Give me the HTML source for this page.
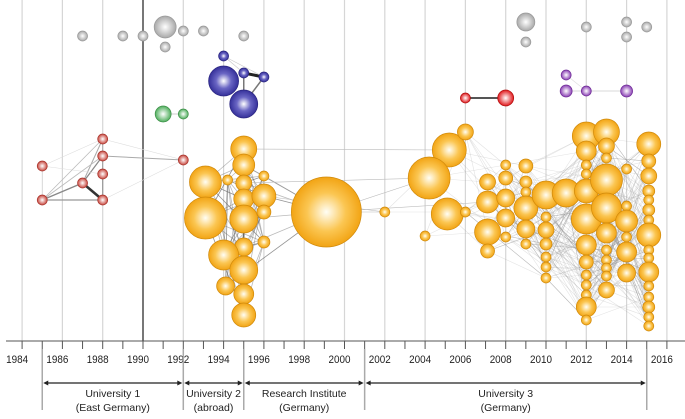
<!DOCTYPE html>
<html><head><meta charset="utf-8">
<style>
html,body{margin:0;padding:0;background:#fff;}
svg{display:block;font-family:"Liberation Sans",sans-serif;}
</style></head>
<body>
<svg id="chart" width="685" height="419" viewBox="0 0 685 419">
<defs>
<radialGradient id="g-orange" cx="0.5" cy="0.5" r="0.5"><stop offset="0" stop-color="#fffef5"/><stop offset="0.55" stop-color="#fbc652"/><stop offset="1" stop-color="#f2a414"/></radialGradient>
<radialGradient id="g-gray" cx="0.5" cy="0.5" r="0.5"><stop offset="0" stop-color="#ffffff"/><stop offset="1" stop-color="#a8a8a8"/></radialGradient>
<radialGradient id="g-blue" cx="0.5" cy="0.5" r="0.5"><stop offset="0" stop-color="#ffffff"/><stop offset="0.5" stop-color="#6a66c4"/><stop offset="1" stop-color="#35309a"/></radialGradient>
<radialGradient id="g-green" cx="0.5" cy="0.5" r="0.5"><stop offset="0" stop-color="#ffffff"/><stop offset="1" stop-color="#4fae5c"/></radialGradient>
<radialGradient id="g-red" cx="0.5" cy="0.5" r="0.5"><stop offset="0" stop-color="#ffffff"/><stop offset="1" stop-color="#c8473e"/></radialGradient>
<radialGradient id="g-bred" cx="0.5" cy="0.5" r="0.5"><stop offset="0" stop-color="#ffffff"/><stop offset="1" stop-color="#e0161a"/></radialGradient>
<radialGradient id="g-purple" cx="0.5" cy="0.5" r="0.5"><stop offset="0" stop-color="#ffffff"/><stop offset="1" stop-color="#8a3fb4"/></radialGradient>
</defs>
<g id="grid"></g>
<g id="edges"></g>
<g id="nodes"></g>
<g id="axis"></g>
<g id="periods"></g>
</svg>
<script>
const years = [1984,1986,1988,1990,1992,1994,1996,1998,2000,2002,2004,2006,2008,2010,2012,2014,2016];
// nodes: [year, vertical position (px), radius]
const grayNodes = [[1987,36,5],[1989,36,5],[1990,36,5],[1991.1,27,11],[1991.1,47,5],[1992,31,5],[1993,31,5],[1995,36,5],[2009,22,9],[2009,42,5],[2012,27,5],[2014,22,5],[2014,37,5],[2015,27,5]];
const blueNodes = [[1994,56,5],[1994,81,15],[1995,73,5],[1996,77,5],[1995,104,14]];
const blueEdges = [[2,3,3,"#222"],[2,4,1.5,"#777"],[3,4,1.5,"#777"],[0,3,0.7,"#ccc"],[0,2,0.7,"#ccc"]];
const greenNodes = [[1991,114,8],[1992,114,5]];
const redNodes = [[1985,166,5],[1985,200,5],[1987,183,5],[1988,139,5],[1988,156,5],[1988,174,5],[1988,200,5],[1992,160,5]];
const redEdges = [[2,6,2.5,"#333"],[1,2,1.3,"#888"],[1,6,1.3,"#999"],[2,4,1.2,"#888"],[2,3,1,"#aaa"],[4,6,1,"#999"],[3,4,1,"#aaa"],[4,7,1,"#aaa"],[0,1,0.8,"#ccc"],[0,5,0.6,"#ddd"],[0,3,0.6,"#ddd"],[1,3,0.8,"#bbb"],[1,4,0.8,"#bbb"],[5,6,1,"#999"],[6,7,0.6,"#ddd"],[3,7,0.6,"#ddd"]];
const brightRedNodes = [[2006,98,5],[2008,98,8]];
const purpleNodes = [[2011,75,5],[2011,91,6],[2012,91,5],[2014,91,6]];
const orangeNodes = [
[1995,149,13],[1995,165,11],[1994.2,180,5],[1993.1,182,16],[1995,183,8],[1996,176,5],[1995,199,10],[1996,196,12],[1996,212,7],[1993.1,218,21],[1995,219,14],[1999.1,212,35],[1995,247,9],[1994,255,15],[1995,270,14],[1996,242,6],[1994.1,286,9],[1995,294,10],[1995,315,12],
[2002,212,5],[2004,236,5],[2005.2,150,17],[2004.2,178,21],[2005.1,214,16],[2006,132,8],[2006,212,5],
[2007.1,182,8],[2007.1,202,11],[2007.1,232,13],[2007.1,251,7],
[2008,165,5],[2008,178,7],[2008,198,9],[2008,218,9],[2008,237,5],
[2009,166,7],[2009,182,6],[2009,192,5],[2009,208,12],[2009,229,9],[2009,244,5],
[2010,195,14],[2010,217,5],[2010,230,8],[2010,244,6],[2010,257,5],[2010,267,5],[2010,278,5],
[2011,193,14],
[2012,136,14],[2012,151,10],[2012,165,5],[2012,174,5],[2012,191,12],[2012,219,15],[2012,245,10],[2012,262,7],[2012,275,5],[2012,285,5],[2012,295,5],[2012,307,10],[2012,320,5],
[2013,132,13],[2013,146,8],[2013,158,5],[2013,180,16],[2013,208,15],[2013,233,10],[2013,250,5],[2013,260,5],[2013,268,5],[2013,276,5],[2013,290,8],
[2014,169,5],[2014,206,5],[2014,221,11],[2014,237,5],[2014,252,10],[2014,273,9],
[2015.1,144,12],[2015.1,161,7],[2015.1,176,8],[2015.1,191,6],[2015.1,200,5],[2015.1,210,6],[2015.1,220,5],[2015.1,235,12],[2015.1,250,5],[2015.1,258,5],[2015.1,272,10],[2015.1,286,5],[2015.1,297,5],[2015.1,307,6],[2015.1,317,5],[2015.1,326,5]
];
const periodBounds = [1985,1992,1995,2001,2015];
const periodLine1 = ["University 1","University 2","Research Institute","University 3"];
const periodLine2 = ["(East Germany)","(abroad)","(Germany)","(Germany)"];

const NS="http://www.w3.org/2000/svg";
const X0=143, PX=20.15, Y0=1990;
function xs(yr){return X0+(yr-Y0)*PX;}
function mk(tag,attrs,parent){const e=document.createElementNS(NS,tag);for(const k in attrs)e.setAttribute(k,attrs[k]);parent.appendChild(e);return e;}
const grid=document.getElementById('grid'),edges=document.getElementById('edges'),nodes=document.getElementById('nodes'),axis=document.getElementById('axis'),periods=document.getElementById('periods');

years.forEach(y=>{
  const l=mk('line',{x1:xs(y),x2:xs(y),y1:0,y2:341,stroke:y===1990?'#777':'#d6d6d6','stroke-width':y===1990?2:1.2},grid);
  
  
});

function drawEdges(list,arr,name){
  list.forEach(([a,b,w,c],i)=>{
    const l=mk('line',{x1:xs(arr[a][0]),y1:arr[a][1],x2:xs(arr[b][0]),y2:arr[b][1],stroke:c,'stroke-width':w},edges);
    
    
  });
}
for(let i=0;i<orangeNodes.length;i++){
  for(let j=i+1;j<orangeNodes.length;j++){
    const a=orangeNodes[i],b=orangeNodes[j];
    const d=Math.abs(a[0]-b[0]);
    const early=i<19&&j<19;
    if((d>0.5 && d<=4 && (i*7+j*3)%4===0) || (early && (i+j)%3===0)){
      const l=mk('line',{x1:xs(a[0]),y1:a[1],x2:xs(b[0]),y2:b[1],stroke:early?'#666':'#9a9a9a','stroke-opacity':(i+j)%9===0?0.7:(early?0.45:0.28),'stroke-width':early?0.8:0.6},edges);
      
      
    }
  }
}
[[11,22],[11,19],[7,19],[0,21],[11,27],[4,22]].forEach(([a,b])=>{
  const l=mk('line',{x1:xs(orangeNodes[a][0]),y1:orangeNodes[a][1],x2:xs(orangeNodes[b][0]),y2:orangeNodes[b][1],stroke:'#bbb','stroke-width':0.6},edges);
  
  
});
drawEdges(redEdges,redNodes,'red');
drawEdges(blueEdges,blueNodes,'blue');
drawEdges([[0,1,1,"#ccc"]],greenNodes,'green');
drawEdges([[0,1,2,"#555"]],brightRedNodes,'bright-red');
drawEdges([[1,2,0.7,"#ccc"],[2,3,0.7,"#ccc"],[0,2,0.6,"#ddd"]],purpleNodes,'purple');

function drawNodes(arr,grad,stroke,name){
  arr.forEach(([yr,y,r])=>{
    const c=mk('circle',{cx:xs(yr),cy:y,r:r,fill:'url(#'+grad+')',stroke:stroke,'stroke-width':0.7},nodes);
    
    
  });
}
drawNodes(grayNodes,'g-gray','#999','gray');
drawNodes(blueNodes,'g-blue','#2b2680','blue');
drawNodes(greenNodes,'g-green','#3d8f48','green');
drawNodes(redNodes,'g-red','#a8352d','red');
drawNodes(brightRedNodes,'g-bred','#b01010','bright-red');
drawNodes(purpleNodes,'g-purple','#6e2c96','purple');
drawNodes(orangeNodes,'g-orange','#d08a0c','orange');

const ax=mk('line',{x1:6,x2:685,y1:341,y2:341,stroke:'#555','stroke-width':1},axis);


for(let y=1984;y<=2016;y++){
  const t=mk('line',{x1:xs(y),x2:xs(y),y1:341,y2:349,stroke:'#555','stroke-width':1},axis);
  
  
}
years.forEach(y=>{
  const t=mk('text',{x:xs(y)-5,y:363,'text-anchor':'middle','font-size':11,fill:'#222',textLength:22,lengthAdjust:'spacingAndGlyphs'},axis);
  t.textContent=y;
  
  
});

periodBounds.forEach(y=>{
  const l=mk('line',{x1:xs(y),x2:xs(y),y1:349,y2:410,stroke:'#aaa','stroke-width':1.5},periods);
  
  
});
for(let i=0;i<periodLine1.length;i++){
  const a=xs(periodBounds[i])+1,b=xs(periodBounds[i+1])-1,m=(a+b)/2;
  const l=mk('line',{x1:a+4,x2:b-4,y1:383,y2:383,stroke:'#222','stroke-width':1.2},periods);
  
  
  const h1=mk('path',{d:`M${a} 383 l5 -2.5 v5 z M${b} 383 l-5 -2.5 v5 z`,fill:'#222'},periods);
  
  
  const t1=mk('text',{x:m,y:397,'text-anchor':'middle','font-size':10.5,fill:'#222'},periods);
  t1.textContent=periodLine1[i];
  
  
  const t2=mk('text',{x:m,y:411,'text-anchor':'middle','font-size':10.5,fill:'#222'},periods);
  t2.textContent=periodLine2[i];
  
  
}
</script>
</body></html>
